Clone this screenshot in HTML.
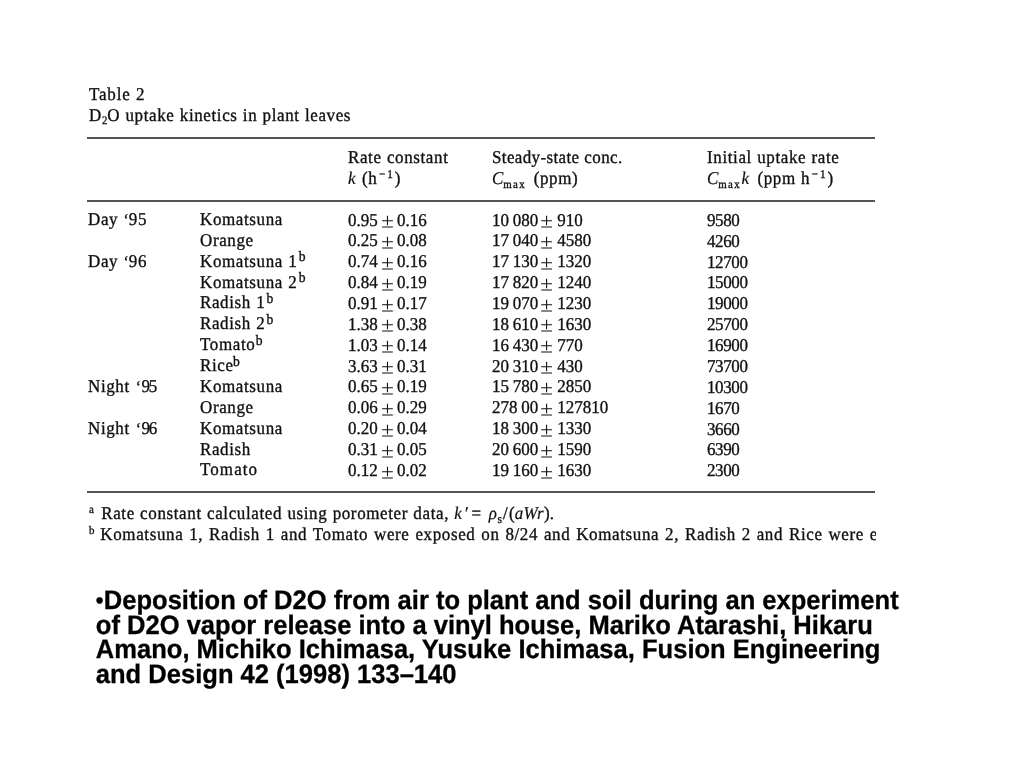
<!DOCTYPE html>
<html><head><meta charset="utf-8"><title>Table 2</title>
<style>
html,body{margin:0;padding:0;background:#fff;}
body{text-rendering:geometricPrecision;width:1024px;height:768px;position:relative;overflow:hidden;font-family:"Liberation Serif",serif;color:#101010;}
#bb{position:absolute;left:0;top:560px;width:1024px;height:208px;filter:blur(0.3px);}
#tb{position:absolute;left:0;top:0;width:1024px;height:560px;filter:blur(0.45px);}
.t{position:absolute;white-space:pre;font-size:18px;line-height:20px;letter-spacing:0.656px;word-spacing:0.4px;-webkit-text-stroke:0.35px #101010;transform:scale(0.9444,1);transform-origin:0 15.75px;}
.t sup{font-size:0.8em;vertical-align:baseline;position:relative;top:-0.38em;line-height:0;margin-left:1.4px;letter-spacing:0;}
.t sub{font-size:0.64em;vertical-align:baseline;position:relative;top:0.32em;line-height:0;letter-spacing:0;}
.q{letter-spacing:0.3px;font-size:0.9em;}
.q2{letter-spacing:0.6px;font-size:0.9em;margin-left:0.8px;}
.n95{letter-spacing:-1.3px;}
.t sup.m1{font-size:0.66em;top:-0.52em;letter-spacing:2.2px;margin-right:-0.4px;margin-left:1.6px;}
.g1{margin-left:0.6px;}.g2{margin-left:2px;}.g3{margin-left:2.6px;}
.n{letter-spacing:0px;word-spacing:-0.5px;}
.t.n5{letter-spacing:-0.4px;}
.pm{display:inline-block;width:11.6px;height:13px;vertical-align:-2.6px;margin:0 4.2px 0 4.6px;overflow:visible;}
.pm3{margin:0 5.8px 0 2.8px;}
.pm path{stroke:#101010;stroke-width:1.15px;fill:none;}
.hr{position:absolute;left:87px;width:788px;height:2px;background:#555;}
.t.f{font-size:18px;word-spacing:1.05px;}
.t sub.mx{letter-spacing:1.5px;margin-left:-0.8px;margin-right:0.4px;}
.t sup.tb{margin-left:0.3px;}
.t sup.rb{margin-left:-0.8px;}
.t.f sub{font-size:0.68em;top:0.3em;margin-right:0;}
.t.f sup{font-size:0.64em;margin-left:0;top:-0.5em;}
.t.f sup.sa{margin-right:2.2px;}
.b{position:absolute;left:95.8px;font-family:"Liberation Sans",sans-serif;font-weight:bold;font-size:25.55px;line-height:24px;color:#000;-webkit-text-stroke:0.3px #000;white-space:pre;letter-spacing:0px;transform:scaleY(1.045);transform-origin:0 20.84px;}
.bu{font-size:0.86em;margin-right:0.3px;position:relative;top:-0.065em;}
i{font-style:italic;-webkit-text-stroke:0.2px #101010;}
</style></head><body>

<div id="tb">
<div class="hr" style="top:137px"></div>
<div class="hr" style="top:200px"></div>
<div class="hr" style="top:491.25px"></div>
<div class="t" style="left:89px;top:83.5px;letter-spacing:0.85px;">Table 2</div>
<div class="t" style="left:89px;top:104.7px;">D<sub>2</sub>O uptake kinetics in plant leaves</div>
<div class="t" style="left:348px;top:146.5px;">Rate constant</div>
<div class="t" style="left:348px;top:168.3px;"><i>k</i><span class=g1> </span>(h<sup class=m1>−1</sup>)</div>
<div class="t" style="left:492px;top:146.5px;letter-spacing:0.38px;">Steady-state conc.</div>
<div class="t" style="left:492px;top:168.3px;"><i>C</i><sub class=mx>max</sub><span class=g2> </span>(ppm)</div>
<div class="t" style="left:707px;top:146.5px;">Initial uptake rate</div>
<div class="t" style="left:707px;top:168.3px;"><i>C</i><sub class=mx>max</sub><i>k</i><span class=g3> </span>(ppm h<sup class=m1>−1</sup>)</div>
<div class="t" style="left:88px;top:209.0px;">Day <span class=q>‘</span>95</div>
<div class="t" style="left:200px;top:209.0px;">Komatsuna</div>
<div class="t n" style="left:348px;top:209.5px;">0.95<svg class="pm" viewBox="0 0 11.6 13"><path d="M0.1 5.7H11.5M5.8 0.8V10.2M0.1 12H11.5"/></svg>0.16</div>
<div class="t n" style="left:492px;top:209.5px;">10 080<svg class="pm pm3" viewBox="0 0 11.6 13"><path d="M0.1 5.7H11.5M5.8 0.8V10.2M0.1 12H11.5"/></svg>910</div>
<div class="t n n5" style="left:707px;top:209.8px;">9580</div>
<div class="t" style="left:200px;top:229.87px;">Orange</div>
<div class="t n" style="left:348px;top:230.37px;">0.25<svg class="pm" viewBox="0 0 11.6 13"><path d="M0.1 5.7H11.5M5.8 0.8V10.2M0.1 12H11.5"/></svg>0.08</div>
<div class="t n" style="left:492px;top:230.37px;">17 040<svg class="pm pm3" viewBox="0 0 11.6 13"><path d="M0.1 5.7H11.5M5.8 0.8V10.2M0.1 12H11.5"/></svg>4580</div>
<div class="t n n5" style="left:707px;top:230.67px;">4260</div>
<div class="t" style="left:88px;top:250.74px;">Day <span class=q>‘</span>96</div>
<div class="t" style="left:200px;top:250.74px;">Komatsuna 1<sup>b</sup></div>
<div class="t n" style="left:348px;top:251.24px;">0.74<svg class="pm" viewBox="0 0 11.6 13"><path d="M0.1 5.7H11.5M5.8 0.8V10.2M0.1 12H11.5"/></svg>0.16</div>
<div class="t n" style="left:492px;top:251.24px;">17 130<svg class="pm pm3" viewBox="0 0 11.6 13"><path d="M0.1 5.7H11.5M5.8 0.8V10.2M0.1 12H11.5"/></svg>1320</div>
<div class="t n n5" style="left:707px;top:251.54px;">12700</div>
<div class="t" style="left:200px;top:271.61px;">Komatsuna 2<sup>b</sup></div>
<div class="t n" style="left:348px;top:272.11px;">0.84<svg class="pm" viewBox="0 0 11.6 13"><path d="M0.1 5.7H11.5M5.8 0.8V10.2M0.1 12H11.5"/></svg>0.19</div>
<div class="t n" style="left:492px;top:272.11px;">17 820<svg class="pm pm3" viewBox="0 0 11.6 13"><path d="M0.1 5.7H11.5M5.8 0.8V10.2M0.1 12H11.5"/></svg>1240</div>
<div class="t n n5" style="left:707px;top:272.41px;">15000</div>
<div class="t" style="left:200px;top:292.48px;">Radish 1<sup>b</sup></div>
<div class="t n" style="left:348px;top:292.98px;">0.91<svg class="pm" viewBox="0 0 11.6 13"><path d="M0.1 5.7H11.5M5.8 0.8V10.2M0.1 12H11.5"/></svg>0.17</div>
<div class="t n" style="left:492px;top:292.98px;">19 070<svg class="pm pm3" viewBox="0 0 11.6 13"><path d="M0.1 5.7H11.5M5.8 0.8V10.2M0.1 12H11.5"/></svg>1230</div>
<div class="t n n5" style="left:707px;top:293.28px;">19000</div>
<div class="t" style="left:200px;top:313.35px;">Radish 2<sup>b</sup></div>
<div class="t n" style="left:348px;top:313.85px;">1.38<svg class="pm" viewBox="0 0 11.6 13"><path d="M0.1 5.7H11.5M5.8 0.8V10.2M0.1 12H11.5"/></svg>0.38</div>
<div class="t n" style="left:492px;top:313.85px;">18 610<svg class="pm pm3" viewBox="0 0 11.6 13"><path d="M0.1 5.7H11.5M5.8 0.8V10.2M0.1 12H11.5"/></svg>1630</div>
<div class="t n n5" style="left:707px;top:314.15px;">25700</div>
<div class="t" style="left:200px;top:334.22px;">Tomato<sup class=tb>b</sup></div>
<div class="t n" style="left:348px;top:334.72px;">1.03<svg class="pm" viewBox="0 0 11.6 13"><path d="M0.1 5.7H11.5M5.8 0.8V10.2M0.1 12H11.5"/></svg>0.14</div>
<div class="t n" style="left:492px;top:334.72px;">16 430<svg class="pm pm3" viewBox="0 0 11.6 13"><path d="M0.1 5.7H11.5M5.8 0.8V10.2M0.1 12H11.5"/></svg>770</div>
<div class="t n n5" style="left:707px;top:335.02px;">16900</div>
<div class="t" style="left:200px;top:355.09px;">Rice<sup class=rb>b</sup></div>
<div class="t n" style="left:348px;top:355.59px;">3.63<svg class="pm" viewBox="0 0 11.6 13"><path d="M0.1 5.7H11.5M5.8 0.8V10.2M0.1 12H11.5"/></svg>0.31</div>
<div class="t n" style="left:492px;top:355.59px;">20 310<svg class="pm pm3" viewBox="0 0 11.6 13"><path d="M0.1 5.7H11.5M5.8 0.8V10.2M0.1 12H11.5"/></svg>430</div>
<div class="t n n5" style="left:707px;top:355.89px;">73700</div>
<div class="t" style="left:88px;top:375.96px;">Night <span class=q2>‘</span><span class=n95>95</span></div>
<div class="t" style="left:200px;top:375.96px;">Komatsuna</div>
<div class="t n" style="left:348px;top:376.46px;">0.65<svg class="pm" viewBox="0 0 11.6 13"><path d="M0.1 5.7H11.5M5.8 0.8V10.2M0.1 12H11.5"/></svg>0.19</div>
<div class="t n" style="left:492px;top:376.46px;">15 780<svg class="pm pm3" viewBox="0 0 11.6 13"><path d="M0.1 5.7H11.5M5.8 0.8V10.2M0.1 12H11.5"/></svg>2850</div>
<div class="t n n5" style="left:707px;top:376.76px;">10300</div>
<div class="t" style="left:200px;top:396.83px;">Orange</div>
<div class="t n" style="left:348px;top:397.33px;">0.06<svg class="pm" viewBox="0 0 11.6 13"><path d="M0.1 5.7H11.5M5.8 0.8V10.2M0.1 12H11.5"/></svg>0.29</div>
<div class="t n" style="left:492px;top:397.33px;">278 00<svg class="pm pm3" viewBox="0 0 11.6 13"><path d="M0.1 5.7H11.5M5.8 0.8V10.2M0.1 12H11.5"/></svg>127810</div>
<div class="t n n5" style="left:707px;top:397.63px;">1670</div>
<div class="t" style="left:88px;top:417.7px;">Night <span class=q2>‘</span><span class=n95>96</span></div>
<div class="t" style="left:200px;top:417.7px;">Komatsuna</div>
<div class="t n" style="left:348px;top:418.2px;">0.20<svg class="pm" viewBox="0 0 11.6 13"><path d="M0.1 5.7H11.5M5.8 0.8V10.2M0.1 12H11.5"/></svg>0.04</div>
<div class="t n" style="left:492px;top:418.2px;">18 300<svg class="pm pm3" viewBox="0 0 11.6 13"><path d="M0.1 5.7H11.5M5.8 0.8V10.2M0.1 12H11.5"/></svg>1330</div>
<div class="t n n5" style="left:707px;top:418.5px;">3660</div>
<div class="t" style="left:200px;top:438.57px;">Radish</div>
<div class="t n" style="left:348px;top:439.07px;">0.31<svg class="pm" viewBox="0 0 11.6 13"><path d="M0.1 5.7H11.5M5.8 0.8V10.2M0.1 12H11.5"/></svg>0.05</div>
<div class="t n" style="left:492px;top:439.07px;">20 600<svg class="pm pm3" viewBox="0 0 11.6 13"><path d="M0.1 5.7H11.5M5.8 0.8V10.2M0.1 12H11.5"/></svg>1590</div>
<div class="t n n5" style="left:707px;top:439.37px;">6390</div>
<div class="t" style="left:200px;top:459.44px;letter-spacing:1.15px;">Tomato</div>
<div class="t n" style="left:348px;top:459.94px;">0.12<svg class="pm" viewBox="0 0 11.6 13"><path d="M0.1 5.7H11.5M5.8 0.8V10.2M0.1 12H11.5"/></svg>0.02</div>
<div class="t n" style="left:492px;top:459.94px;">19 160<svg class="pm pm3" viewBox="0 0 11.6 13"><path d="M0.1 5.7H11.5M5.8 0.8V10.2M0.1 12H11.5"/></svg>1630</div>
<div class="t n n5" style="left:707px;top:460.24px;">2300</div>
<div class="t f" style="left:89px;top:503px;word-spacing:0.45px;"><sup class=sa>a</sup> Rate constant calculated using porometer data, <i>k</i><span style="margin-left:2.6px">′</span><span style="margin-left:-3.2px"> </span>=<span style="margin-left:1.8px"> </span><i>ρ</i><sub>s</sub><span style="margin-left:1px">/</span><span style="letter-spacing:0.25px;margin-left:0.6px">(<i>aWr</i>).</span></div>
<div style="position:absolute;left:0;top:523.8px;width:876px;height:26px;overflow:hidden;"><div class="t f" style="left:89px;top:0px;"><sup>b</sup> Komatsuna 1, Radish 1 and Tomato were exposed on 8/24 and Komatsuna 2, Radish 2 and Rice were e</div></div>
</div>
<div id="bb">
<div class="b" style="top:29.26px;"><span class="bu">•</span>Deposition of D2O from air to plant and soil during an experiment</div>
<div class="b" style="top:54.06px;">of D2O vapor release into a vinyl house, Mariko Atarashi, Hikaru</div>
<div class="b" style="top:78.46px;">Amano, Michiko Ichimasa, Yusuke Ichimasa, Fusion Engineering</div>
<div class="b" style="top:102.76px;">and Design 42 (1998) 133–140</div>
</div>
</body></html>
